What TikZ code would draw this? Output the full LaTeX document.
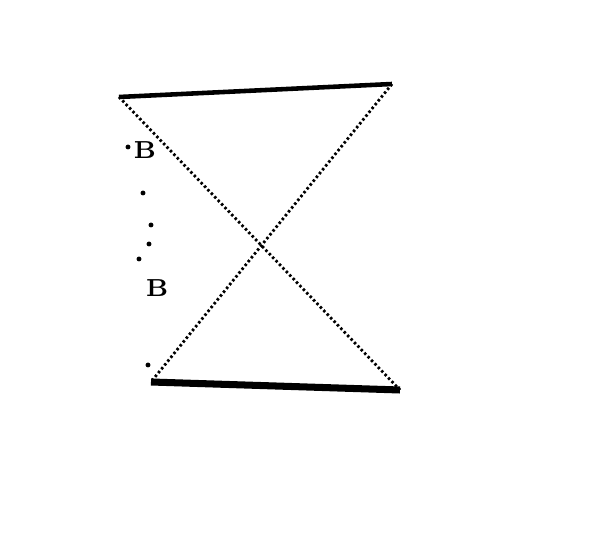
\documentclass[tikz,border=0pt]{standalone}
\begin{document}
\begin{tikzpicture}[x=0.01cm,y=-0.01cm,
    dotted line/.style={line width=0.8pt, dash pattern=on 0.7pt off 0.7pt},
    lbl/.style={font=\fontsize{7}{7}\selectfont\bfseries, inner sep=0pt}]
        \useasboundingbox (0,0) rectangle (590,552);

        \coordinate (tl) at (119,97);
        \coordinate (tr) at (392,84);
        \coordinate (bl) at (151,382);
        \coordinate (br) at (400,390);

        \draw [line width=1.3pt] (tl) -- (tr);
        \draw [line width=2pt] (bl) -- (br);

        \draw [dotted line] (tl) -- (br);
        \draw [dotted line] (tr) -- (bl);

        \node [lbl] (b1) at (145,150) {B};
        \node [lbl] (b2) at (157,288) {B};

        \fill (128,147) circle (0.7pt);
        \fill (143,193) circle (0.7pt);
        \fill (151,225) circle (0.7pt);
        \fill (149,244) circle (0.7pt);
        \fill (139,259) circle (0.7pt);
        \fill (148,365) circle (0.7pt);
      \end{tikzpicture}
\end{document}
